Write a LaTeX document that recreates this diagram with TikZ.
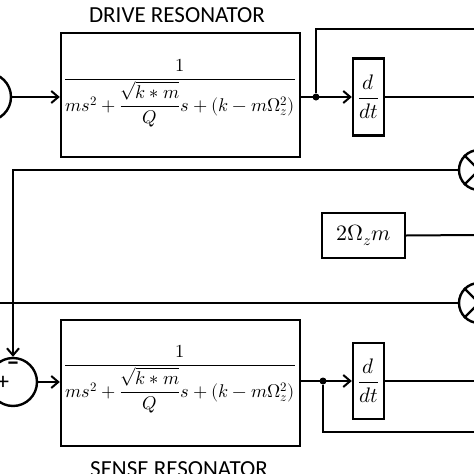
\documentclass[tikz,border=0pt]{standalone}
\usepackage{amsmath}
\usepackage{fontspec}
\usepackage{unicode-math}
\setmainfont{Carlito}
\setmathfont{Latin Modern Math}
\usetikzlibrary{arrows.meta}
\begin{document}
\begin{tikzpicture}[x=1pt,y=-1pt,
  box/.style={draw, line width=2.4pt, inner sep=0pt},
  wire/.style={line width=2pt},
  arr/.style={wire, -{Straight Barb[length=7pt,width=12pt,line width=2pt]}},
  sumc/.style={draw, circle, line width=2.4pt, minimum size=48pt, inner sep=0pt},
  mulc/.style={draw, circle, line width=2.4pt, minimum size=40pt, inner sep=0pt},
  jdot/.style={circle, fill, minimum size=7pt, inner sep=0pt},
  title/.style={font=\fontsize{23}{26}\selectfont},
  tf/.style={font=\fontsize{18.4}{21}\selectfont, inner sep=0pt},
  dd/.style={font=\fontsize{21}{24}\selectfont, inner sep=0pt},
  sgn/.style={font=\fontsize{24}{24}\selectfont, inner sep=0pt}
]
\useasboundingbox[fill=white] (0,0) rectangle (474,474);

% titles
\node[title] (dtitle) at (177,15) {DRIVE RESONATOR};
\node[title] (stitle) at (179,469) {SENSE RESONATOR};

% drive path
\node[sumc] (dsum) at (-13,97) {};
\node[box, minimum width=239pt, minimum height=124pt] (drv) at (180.5,95) {};
\node[tf] (drvtf) at (180,93) {$\dfrac{1}{ms^2+\dfrac{\sqrt{k*m}}{Q}s+(k-m\mitOmega_z^2)}$};
\node[box, minimum width=31pt, minimum height=77pt] (ddt) at (368.5,97) {};
\node[dd] (ddttf) at (368.5,97) {$\dfrac{d}{dt}$};
\node[jdot] (dj) at (316,97) {};
\coordinate (dtop) at (474,29);
\coordinate (dout) at (474,97);

\draw[arr] (dsum.east) -- (dsum.east -| drv.west);
\draw[arr] (ddt.west -| drv.east) -- (ddt.west);
\draw[wire] (dj) |- (dtop);
\draw[wire] (ddt.east) -- (dout);

% middle
\node[mulc] (mul1) at (479,170) {};
\node[mulc] (mul2) at (479,303) {};
\draw[line width=2.4pt] (mul1.north west) -- (mul1.south east) (mul1.north east) -- (mul1.south west);
\draw[line width=2.4pt] (mul2.north west) -- (mul2.south east) (mul2.north east) -- (mul2.south west);
\node[box, minimum width=83pt, minimum height=45pt, font=\fontsize{22}{24}\selectfont] (gain) at (363.5,235.5) {$2\Omega_z m$};
\coordinate (gout) at (474,235);
\coordinate (l303) at (0,303);
\draw[wire] (gain.east) -- (gout);
\draw[wire] (l303) -- (mul2.west);

% sense path
\node[sumc] (ssum) at (13,382) {};
\node[sgn, font=\fontsize{26}{26}\selectfont\bfseries] (sminus) at (13,366) {–};
\node[sgn] (splus) at (3,383) {+};
\draw[arr] (mul1.west) -| (ssum.north);
\node[box, minimum width=239pt, minimum height=126pt] (sns) at (180.5,383) {};
\node[tf] (snstf) at (180,379) {$\dfrac{1}{ms^2+\dfrac{\sqrt{k*m}}{Q}s+(k-m\mitOmega_z^2)}$};
\node[box, minimum width=31pt, minimum height=76pt] (sddt) at (368.5,381) {};
\node[dd] (sddttf) at (368.5,381) {$\dfrac{d}{dt}$};
\node[jdot] (sj) at (323,381) {};
\coordinate (sbot) at (474,432);
\coordinate (sout) at (474,381);

\draw[arr] (ssum.east) -- (ssum.east -| sns.west);
\draw[arr] (sddt.west -| sns.east) -- (sddt.west);
\draw[wire] (sj) |- (sbot);
\draw[wire] (sddt.east) -- (sout);
\end{tikzpicture}
\end{document}
